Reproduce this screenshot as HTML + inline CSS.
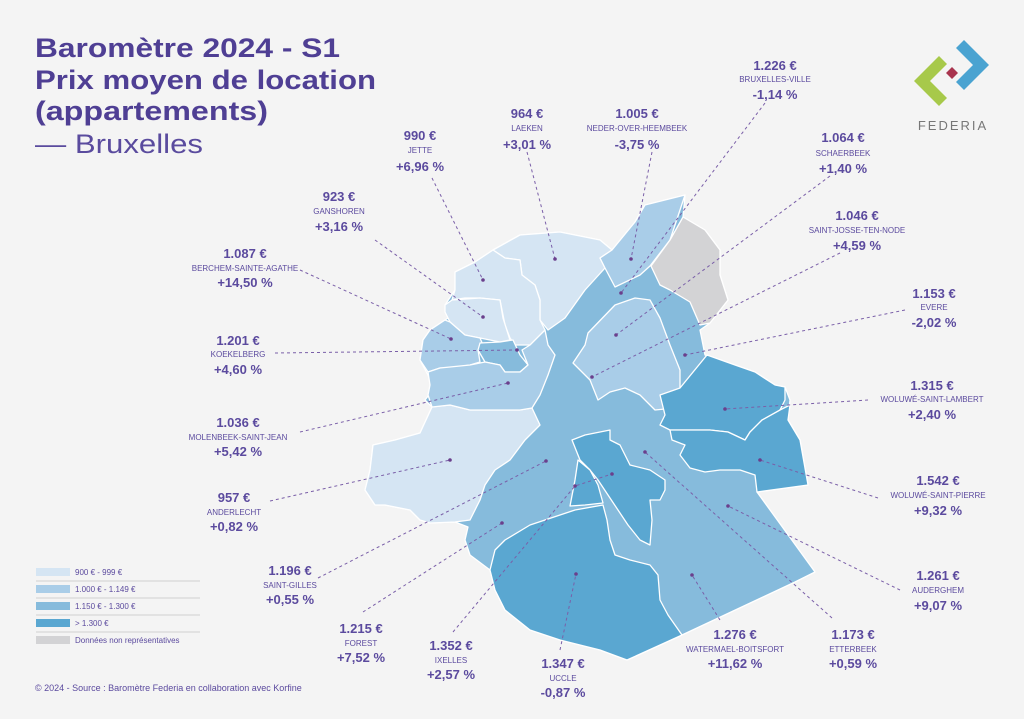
<!DOCTYPE html>
<html><head><meta charset="utf-8"><style>
html,body{margin:0;padding:0;background:#f4f4f4;}
svg{display:block;}
text{font-family:"Liberation Sans",sans-serif;}
.p{font-size:13px;font-weight:bold;fill:#5b4a9e;text-anchor:middle;}
.n{font-size:8px;fill:#5b4a9e;text-anchor:middle;}
.l{stroke:#7a5fa8;stroke-width:1;stroke-dasharray:3,3;fill:none;}
.d{fill:#6a3f8c;}
.m polygon{stroke:#fff;stroke-width:1.3;stroke-linejoin:round;}
</style></head><body>
<svg width="1024" height="719" viewBox="0 0 1024 719">
<rect width="1024" height="719" fill="#f4f4f4"/>
<g fill="#4f3f94" font-weight="bold" font-size="27">
<text x="35" y="57" textLength="305" lengthAdjust="spacingAndGlyphs">Baromètre 2024 - S1</text>
<text x="35" y="89" textLength="341" lengthAdjust="spacingAndGlyphs">Prix moyen de location</text>
<text x="35" y="120" textLength="233" lengthAdjust="spacingAndGlyphs">(appartements)</text>
</g>
<text x="35" y="153" font-size="27" fill="#5a4b9e" textLength="168" lengthAdjust="spacingAndGlyphs">— Bruxelles</text>
<!-- logo -->
<polygon points="939,56 947,64 930,81 947,98 939,106 914,81" fill="#a7c94a"/>
<polygon points="964,40 989,65 964,90 956,82 973,65 956,48" fill="#4aa3d1"/>
<polygon points="952,67 958,73 952,79 946,73" fill="#a8344e"/>
<text x="953" y="130" font-size="13" fill="#777" text-anchor="middle" letter-spacing="2">FEDERIA</text>
<!-- map -->
<g class="m">
<polygon fill="#86bbdc" points="493,250 520,235 560,232 600,240 612,250 635,222 645,205 685,195 683,217 705,230 720,250 720,275 728,300 710,323 700,330 705,355 735,365 755,372 775,385 785,387 790,400 788,420 800,440 808,485 757,492 815,572 795,582 682,635 627,660 600,650 560,640 530,630 505,610 495,590 490,570 470,555 465,540 468,527 455,522 430,523 420,520 410,510 385,505 375,505 365,490 370,470 373,445 395,440 420,433 432,407 425,400 433,390 428,375 420,360 423,340 430,330 445,320 453,315 445,305 455,290 455,272 475,262"/>
<polygon fill="#d5e5f3" points="373,445 395,440 420,433 432,407 450,405 470,410 520,410 532,408 540,425 525,440 510,460 495,470 485,485 480,500 470,520 455,522 430,523 420,520 410,510 385,505 375,505 365,490 370,470"/>
<polygon fill="#d5e5f3" points="493,250 520,235 560,232 600,240 612,250 600,258 605,268 585,290 565,318 548,330 540,320 540,300 535,285 522,275 520,260 505,258"/>
<polygon fill="#d5e5f3" points="455,272 475,262 493,250 505,258 520,260 522,275 535,285 540,300 540,320 545,330 535,345 515,345 510,338 505,325 500,300 480,298 465,298 452,300 455,290"/>
<polygon fill="#d5e5f3" points="445,305 452,300 480,298 500,300 503,318 510,340 500,342 480,338 465,335 450,322 445,312"/>
<polygon fill="#a9cde8" points="423,340 430,330 445,320 450,322 465,335 480,338 483,345 478,350 480,362 470,365 450,368 440,368 428,372 420,360"/>
<polygon fill="#86bbdc" points="480,343 500,342 513,340 520,355 528,365 520,372 505,372 500,365 485,362 478,350"/>
<polygon fill="#a9cde8" points="428,372 440,368 470,365 485,362 500,365 505,372 520,372 528,365 522,350 530,345 545,330 548,345 555,355 548,375 540,395 532,408 520,410 470,410 450,405 432,407 428,395 430,385"/>
<polygon fill="#a9cde8" points="600,258 612,250 635,222 645,205 685,195 670,240 650,266 640,275 615,287 605,268"/>
<polygon fill="#d3d3d5" points="651,266 670,240 683,217 705,230 720,250 720,275 728,300 710,323 700,325 690,302 670,290 660,285"/>
<polygon fill="#a9cde8" points="588,333 615,305 635,298 650,300 660,318 670,345 680,370 680,395 675,408 655,410 640,395 625,388 610,392 598,400 590,380 573,363 585,345"/>
<polygon fill="#5aa7d1" points="660,395 680,388 707,355 735,365 755,372 775,385 785,387 785,400 780,410 770,420 762,420 755,428 750,432 745,440 728,432 710,430 690,430 670,430 660,425 665,415"/>
<polygon fill="#5aa7d1" points="670,430 690,430 710,430 728,432 745,440 750,432 762,420 780,410 790,405 788,420 800,440 808,485 757,492 755,475 740,470 720,470 705,472 690,468 680,455 685,445 672,440"/>
<polygon fill="#5aa7d1" points="572,440 585,435 600,432 610,430 610,440 620,445 625,455 630,465 650,470 665,480 665,490 660,500 650,500 652,520 650,545 640,540 628,525 618,510 608,495 598,480 590,470 580,460"/>
<polygon fill="#5aa7d1" points="578,460 590,470 598,485 603,503 585,505 570,506 575,480"/>
<polygon fill="#5aa7d1" points="490,570 495,550 505,540 530,525 545,520 560,515 575,510 603,505 607,520 610,540 615,555 630,560 650,565 658,575 660,600 668,615 682,635 627,660 600,650 560,640 530,630 505,610 495,590"/>
</g>
<!-- leader lines -->
<g class="l">
<path d="M432,178 L483,280"/><path d="M527,152 L555,259"/><path d="M652,152 L631,259"/>
<path d="M765,103 L621,293"/><path d="M830,176 L616,335"/><path d="M840,253 L592,377"/>
<path d="M905,310 L685,355"/><path d="M868,400 L725,409"/><path d="M878,498 L760,460"/>
<path d="M900,590 L728,506"/><path d="M832,618 L645,452"/><path d="M720,620 L692,575"/>
<path d="M560,650 L576,574"/><path d="M453,632 L575,486 L612,474"/><path d="M363,612 L502,523"/>
<path d="M318,578 L546,461"/><path d="M270,501 L450,460"/><path d="M300,432 L508,383"/>
<path d="M275,353 L517,350"/><path d="M300,270 L451,339"/><path d="M375,240 L483,317"/>
</g>
<g class="d">
<circle cx="483" cy="280" r="1.8"/><circle cx="555" cy="259" r="1.8"/><circle cx="631" cy="259" r="1.8"/>
<circle cx="621" cy="293" r="1.8"/><circle cx="616" cy="335" r="1.8"/><circle cx="592" cy="377" r="1.8"/>
<circle cx="685" cy="355" r="1.8"/><circle cx="725" cy="409" r="1.8"/><circle cx="760" cy="460" r="1.8"/>
<circle cx="728" cy="506" r="1.8"/><circle cx="645" cy="452" r="1.8"/><circle cx="692" cy="575" r="1.8"/>
<circle cx="576" cy="574" r="1.8"/><circle cx="575" cy="486" r="1.8"/><circle cx="612" cy="474" r="1.8"/>
<circle cx="502" cy="523" r="1.8"/><circle cx="546" cy="461" r="1.8"/><circle cx="450" cy="460" r="1.8"/>
<circle cx="508" cy="383" r="1.8"/><circle cx="517" cy="350" r="1.8"/><circle cx="451" cy="339" r="1.8"/>
<circle cx="483" cy="317" r="1.8"/>
</g>
<!-- labels -->
<g>
<text class="p" x="420" y="140">990 €</text><text class="n" x="420" y="153">JETTE</text><text class="p" x="420" y="171">+6,96 %</text>
<text class="p" x="527" y="118">964 €</text><text class="n" x="527" y="131">LAEKEN</text><text class="p" x="527" y="149">+3,01 %</text>
<text class="p" x="637" y="118">1.005 €</text><text class="n" x="637" y="131">NEDER-OVER-HEEMBEEK</text><text class="p" x="637" y="149">-3,75 %</text>
<text class="p" x="775" y="70">1.226 €</text><text class="n" x="775" y="82">BRUXELLES-VILLE</text><text class="p" x="775" y="99">-1,14 %</text>
<text class="p" x="843" y="142">1.064 €</text><text class="n" x="843" y="156">SCHAERBEEK</text><text class="p" x="843" y="173">+1,40 %</text>
<text class="p" x="857" y="220">1.046 €</text><text class="n" x="857" y="233">SAINT-JOSSE-TEN-NODE</text><text class="p" x="857" y="250">+4,59 %</text>
<text class="p" x="934" y="298">1.153 €</text><text class="n" x="934" y="310">EVERE</text><text class="p" x="934" y="327">-2,02 %</text>
<text class="p" x="932" y="390">1.315 €</text><text class="n" x="932" y="402">WOLUWÉ-SAINT-LAMBERT</text><text class="p" x="932" y="419">+2,40 %</text>
<text class="p" x="938" y="485">1.542 €</text><text class="n" x="938" y="498">WOLUWÉ-SAINT-PIERRE</text><text class="p" x="938" y="515">+9,32 %</text>
<text class="p" x="938" y="580">1.261 €</text><text class="n" x="938" y="593">AUDERGHEM</text><text class="p" x="938" y="610">+9,07 %</text>
<text class="p" x="853" y="639">1.173 €</text><text class="n" x="853" y="652">ETTERBEEK</text><text class="p" x="853" y="668">+0,59 %</text>
<text class="p" x="735" y="639">1.276 €</text><text class="n" x="735" y="652">WATERMAEL-BOITSFORT</text><text class="p" x="735" y="668">+11,62 %</text>
<text class="p" x="563" y="668">1.347 €</text><text class="n" x="563" y="681">UCCLE</text><text class="p" x="563" y="697">-0,87 %</text>
<text class="p" x="451" y="650">1.352 €</text><text class="n" x="451" y="663">IXELLES</text><text class="p" x="451" y="679">+2,57 %</text>
<text class="p" x="361" y="633">1.215 €</text><text class="n" x="361" y="646">FOREST</text><text class="p" x="361" y="662">+7,52 %</text>
<text class="p" x="290" y="575">1.196 €</text><text class="n" x="290" y="588">SAINT-GILLES</text><text class="p" x="290" y="604">+0,55 %</text>
<text class="p" x="234" y="502">957 €</text><text class="n" x="234" y="515">ANDERLECHT</text><text class="p" x="234" y="531">+0,82 %</text>
<text class="p" x="238" y="427">1.036 €</text><text class="n" x="238" y="440">MOLENBEEK-SAINT-JEAN</text><text class="p" x="238" y="456">+5,42 %</text>
<text class="p" x="238" y="345">1.201 €</text><text class="n" x="238" y="357">KOEKELBERG</text><text class="p" x="238" y="374">+4,60 %</text>
<text class="p" x="245" y="258">1.087 €</text><text class="n" x="245" y="271">BERCHEM-SAINTE-AGATHE</text><text class="p" x="245" y="287">+14,50 %</text>
<text class="p" x="339" y="201">923 €</text><text class="n" x="339" y="214">GANSHOREN</text><text class="p" x="339" y="231">+3,16 %</text>
</g>
<!-- legend -->
<g font-size="8" fill="#5b4a9e">
<rect x="36" y="568" width="34" height="8" fill="#d5e5f3"/><text x="75" y="575">900 € - 999 €</text>
<line x1="36" y1="581" x2="200" y2="581" stroke="#aaa" stroke-width="0.6"/>
<rect x="36" y="585" width="34" height="8" fill="#a9cde8"/><text x="75" y="592">1.000 € - 1.149 €</text>
<line x1="36" y1="598" x2="200" y2="598" stroke="#aaa" stroke-width="0.6"/>
<rect x="36" y="602" width="34" height="8" fill="#86bbdc"/><text x="75" y="609">1.150 € - 1.300 €</text>
<line x1="36" y1="615" x2="200" y2="615" stroke="#aaa" stroke-width="0.6"/>
<rect x="36" y="619" width="34" height="8" fill="#5aa7d1"/><text x="75" y="626">&gt; 1.300 €</text>
<line x1="36" y1="632" x2="200" y2="632" stroke="#aaa" stroke-width="0.6"/>
<rect x="36" y="636" width="34" height="8" fill="#d3d3d5"/><text x="75" y="643">Données non représentatives</text>
</g>
<text x="35" y="691" font-size="9" fill="#5b4a9e">© 2024 - Source : Baromètre Federia en collaboration avec Korfine</text>
</svg>
</body></html>
